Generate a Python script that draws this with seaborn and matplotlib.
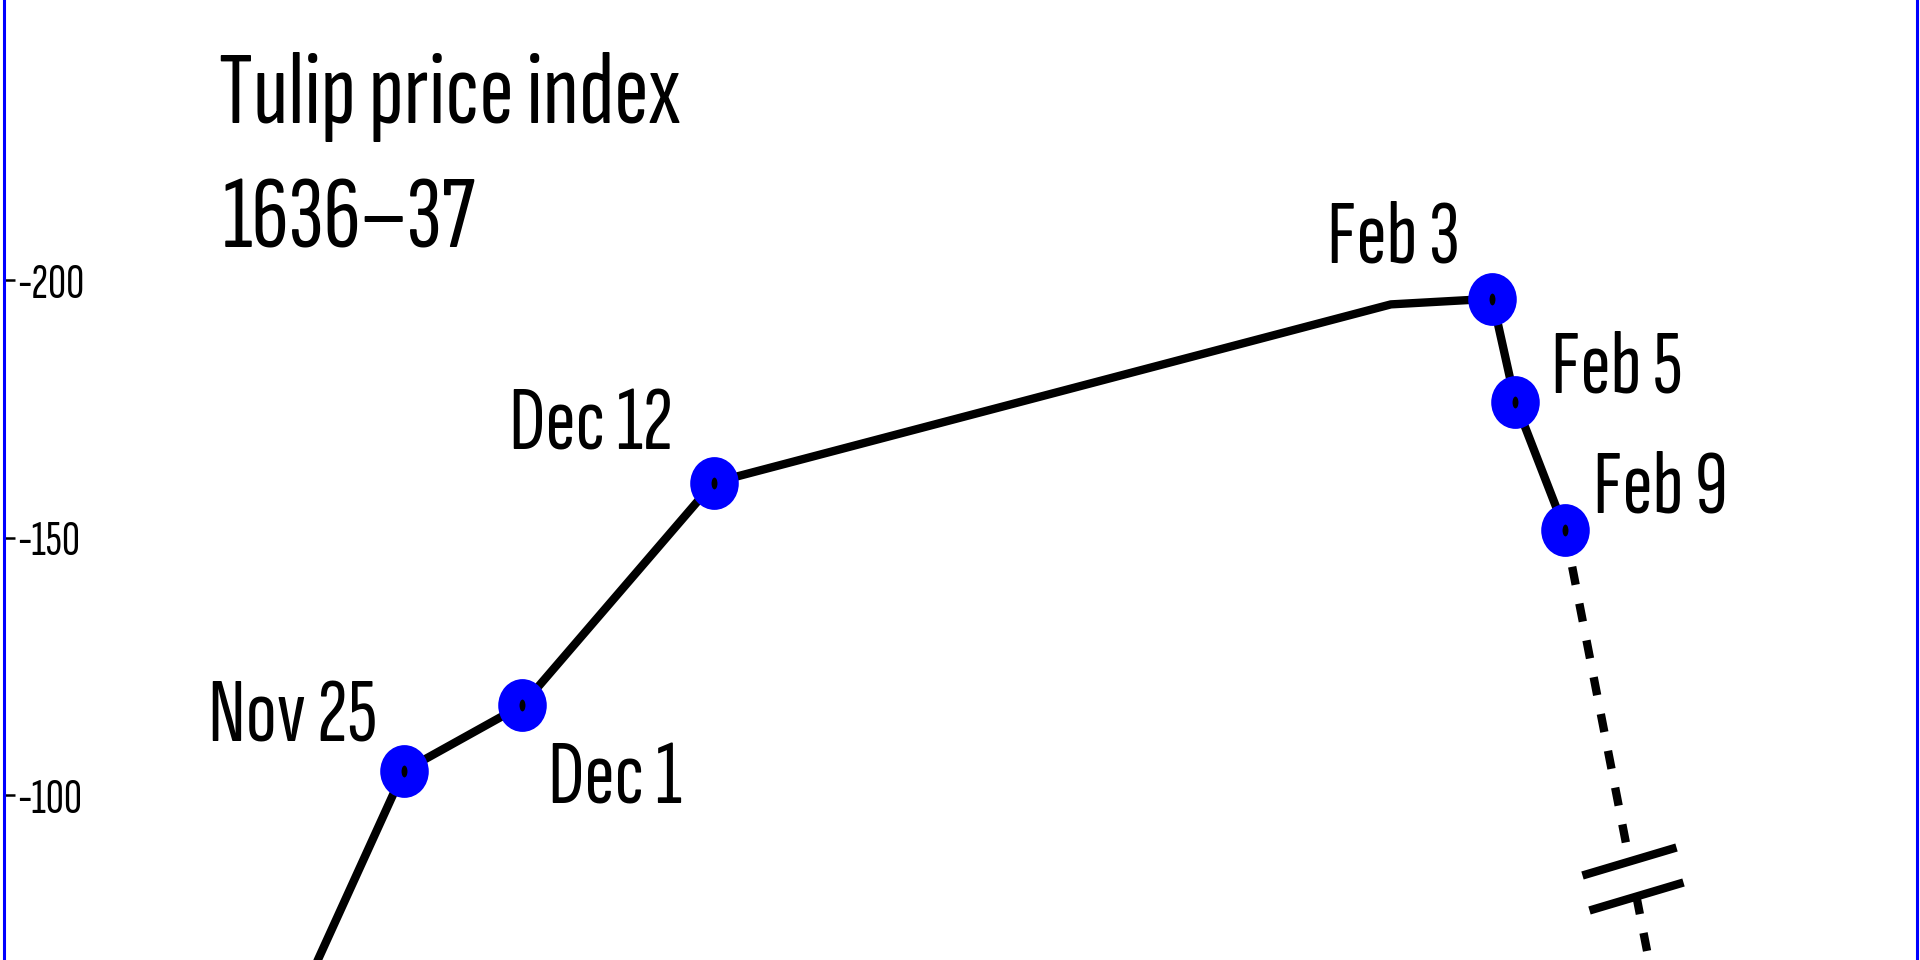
import numpy as np
import pandas as pd
import matplotlib.pyplot as plt
from matplotlib.path import Path
import seaborn as sns

# x = position across the chart (0-100), y = price index
solid_x = [14.2, 20.9, 27.1, 37.1, 72.5, 77.8, 79.0, 81.6]
solid_y = [50.0, 104.7, 117.5, 160.7, 195.3, 196.4, 176.4, 151.5]

point_labels = ['Nov 25', 'Dec 1', 'Dec 12', 'Feb 3', 'Feb 5', 'Feb 9']
point_x = [20.9, 27.1, 37.1, 77.8, 79.0, 81.6]
point_y = [104.7, 117.5, 160.7, 196.4, 176.4, 151.5]

# the crash after Feb 9, drawn dashed and broken
crash_top_x = [81.6, 84.97]
crash_top_y = [151.5, 87.2]
crash_bottom_x = [85.33, 88.5]
crash_bottom_y = [80.4, 20.0]
break_x = [84.97, 85.33]
break_y = [87.2, 80.4]

ytick_vals = [100, 150, 200]
ytick_labels = ['-100', '-150', '-200']

title_lines = ['Tulip price index', '1636\u201337']

# label offsets in pixels from the point (dx, dy, alignment)
label_offsets = {
    'Nov 25': (-27, 29, 'right'),
    'Dec 1': (26, -98, 'left'),
    'Dec 12': (-41, 33, 'right'),
    'Feb 3': (-32, 36, 'right'),
    'Feb 5': (36, 9, 'left'),
    'Feb 9': (28, 17, 'left'),
}

sns.set_style('white')
plt.rcParams['font.family'] = ['Sofia Sans Extra Condensed', 'Pragati Narrow', 'DejaVu Sans']
plt.rcParams['text.color'] = 'black'

fig = plt.figure(figsize=(19.2, 9.6), dpi=100)
ax = fig.add_axes([4 / 1920, 0, 1913 / 1920, 1])
ax.set_xlim(0, 100)
ax.set_ylim(68.0, 254.4)

blue = '#0000ff'

solid = pd.DataFrame({'x': solid_x, 'y': solid_y})
sns.lineplot(data=solid, x='x', y='y', ax=ax, color='black', linewidth=6,
             sort=False, estimator=None, zorder=2)

for xs, ys in [(crash_top_x, crash_top_y), (crash_bottom_x, crash_bottom_y)]:
    seg = pd.DataFrame({'x': xs, 'y': ys})
    sns.lineplot(data=seg, x='x', y='y', ax=ax, color='black', linewidth=6,
                 sort=False, estimator=None, linestyle=(0, (2.2, 2.3)),
                 dash_capstyle='butt', zorder=2)

# slanted break marks across the dashed line
break_marker = Path([(-47, -14), (47, 14)], [Path.MOVETO, Path.LINETO])
ax.plot(break_x, break_y, linestyle='none', marker=break_marker,
        markersize=67.7, markeredgewidth=6, markeredgecolor='black',
        markerfacecolor='none', zorder=2)

circ = Path.unit_circle()
dot_marker = Path(circ.vertices * [0.92, 1.0], circ.codes)
pin_marker = Path(circ.vertices * [0.5, 1.0], circ.codes)

sns.scatterplot(x=point_x, y=point_y, ax=ax, marker=dot_marker, s=38 ** 2,
                color=blue, linewidth=0, zorder=3)
sns.scatterplot(x=point_x, y=point_y, ax=ax, marker=pin_marker, s=8.5 ** 2,
                color='black', linewidth=0, zorder=4)

for lbl, x, y in zip(point_labels, point_x, point_y):
    dx, dy, ha = label_offsets[lbl]
    ax.annotate(lbl, (x, y), xytext=(dx, dy), textcoords='offset pixels',
                ha=ha, va='baseline', fontsize=66, color='black')

fig.text(219 / 1920, 1 - 123 / 960, title_lines[0], fontsize=75,
         va='baseline', color='black')
fig.text(223 / 1920, 1 - 248 / 960, title_lines[1], fontsize=75,
         va='baseline', color='black')

ax.set_yticks(ytick_vals, labels=ytick_labels)
ax.tick_params(axis='y', left=True, direction='in', length=8, width=1.8,
               colors='black', labelsize=36, pad=-9.4)
for t in ax.get_yticklabels():
    t.set_horizontalalignment('left')
ax.set_xticks([])
ax.set_xlabel('')
ax.set_ylabel('')

ax.spines['top'].set_visible(False)
ax.spines['bottom'].set_visible(False)
for side in ['left', 'right']:
    ax.spines[side].set_color(blue)
    ax.spines[side].set_linewidth(2.2)

fig.savefig('out.png', dpi=100)
